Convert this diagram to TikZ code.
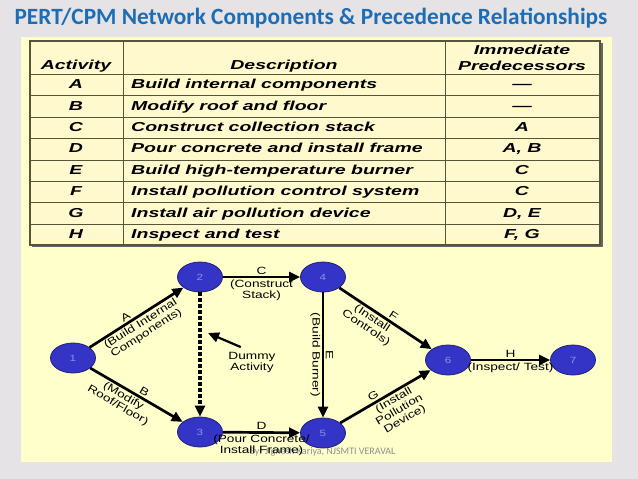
\documentclass[tikz,border=0pt]{standalone}
\usepackage{fontspec}
\usetikzlibrary{arrows.meta, shapes.geometric, positioning, calc}
\setmainfont{Liberation Sans}
\newfontfamily\titlefont{Carlito}
\newfontfamily\tabfont[FakeStretch=1.5]{Liberation Sans}
\newfontfamily\netfont[FakeStretch=1.3]{Liberation Sans}
\definecolor{SlideGray}{HTML}{E5E3E5}
\definecolor{PadYellow}{HTML}{FFFFCC}
\definecolor{TableCream}{HTML}{FFF9CD}
\definecolor{RuleOlive}{HTML}{55553A}
\definecolor{TitleBlue}{HTML}{1E6DB4}
\definecolor{EventBlue}{HTML}{3434C6}
\definecolor{EventRim}{HTML}{20207A}
\definecolor{DigitBlue}{HTML}{9090E8}
\definecolor{NoteGray}{HTML}{8E8E8E}

\tikzset{
  event/.style={ellipse, draw=EventRim, fill=EventBlue, line width=0.8pt,
    minimum width=45pt, minimum height=30pt, inner sep=0pt, text=DigitBlue,
    font=\netfont\fontsize{9}{9}\selectfont},
  act/.style={-{Triangle[length=11pt,width=10pt]}, line width=2.7pt, black},
  dummyact/.style={act, line width=3.4pt, dash pattern=on 3.5pt off 2.5pt},
  lbl/.style={font=\netfont\fontsize{10.5}{11}\selectfont, align=center, inner sep=1.5pt},
  cell/.style={font=\tabfont\bfseries\itshape\fontsize{13}{16}\selectfont,
    inner sep=0pt, text height=9.4pt, text depth=2pt},
}

\begin{document}
\begin{tikzpicture}[x=1pt, y=-1pt]
  % slide
  \useasboundingbox (0,0) rectangle (638,479);
  \fill[SlideGray] (0,0) rectangle (638,479);
  \fill[PadYellow] (21,37) rectangle (612,462);
  \node[font=\titlefont\bfseries\fontsize{23.3}{25}\selectfont, text=TitleBlue] (title) at (311,18)
    {PERT/CPM Network Components \& Precedence Relationships};

  % table
  \fill[black!60] (32,43) rectangle (603,247);
  \draw[RuleOlive, fill=TableCream, line width=1.4pt] (30,41) rectangle (600,245);
  \foreach \y in {74.3,95.7,...,225}{\draw[RuleOlive, line width=0.8pt] (30,\y) -- (600,\y);}
  \foreach \x in {123,445}{\draw[RuleOlive, line width=0.8pt] (\x,41) -- (\x,245);}
  \node[cell] (acthead) at (76,66) {Activity};
  \node[cell] (deschead) at (284,66) {Description};
  \node[cell, align=center, text height=, text depth=] (predhead) at (522,58) {Immediate\\Predecessors};
  \foreach \a/\d/\p [count=\i] in {A/Build internal components/—, B/Modify roof and floor/—,
      C/Construct collection stack/A, D/Pour concrete and install frame/{A, B},
      E/Build high-temperature burner/C, F/Install pollution control system/C,
      G/Install air pollution device/{D, E}, H/Inspect and test/{F, G}}{
    \node[cell] (act\i) at (76,{85+(\i-1)*21.4}) {\a};
    \node[cell, anchor=west] (desc\i) at (131,{85+(\i-1)*21.4}) {\d};
    \node[cell] (pred\i) at (522,{85+(\i-1)*21.4}) {\p};
  }

  % credit line
  \node[font=\titlefont\fontsize{10}{10}\selectfont, text=NoteGray, anchor=west] (credit) at (246,452)
    {By: Jignesh Kariya, NJSMTI VERAVAL};

  % events
  \node[event] (e1) at (73,358) {1};
  \node[event] (e2) at (200,277) {2};
  \node[event] (e3) at (200,432) {3};
  \node[event] (e4) at (323,277) {4};
  \node[event] (e5) at (323,433) {5};
  \node[event] (e6) at (448,360) {6};
  \node[event] (e7) at (573,360) {7};

  % activities
  \draw[act] (e1) -- node[lbl, sloped, above, pos=0.42] (la) {A}
    node[lbl, sloped, below, pos=0.5] (lad) {(Build Internal\\Components)} (e2);
  \draw[act] (e1) -- node[lbl, sloped, above, pos=0.55] (lb) {B}
    node[lbl, sloped, below, pos=0.4] (lbd) {(Modify\\Roof/Floor)} (e3);
  \draw[act] (e2) -- node[lbl, above] (lc) {C} node[lbl, below] (lcd) {(Construct\\Stack)} (e4);
  \draw[act] (e3) -- node[lbl, above] (ld) {D} node[lbl, below] (ldd) {(Pour Concrete/\\Install Frame)} (e5);
  \draw[act] (e4) -- node[lbl, sloped, above] (le) {E} node[lbl, sloped, below] (led) {(Build Burner)} (e5);
  \draw[act] (e4) -- node[lbl, sloped, above, pos=0.55] (lf) {F}
    node[lbl, sloped, below, pos=0.4] (lfd) {(Install\\Controls)} (e6);
  \draw[act] (e5) -- node[lbl, sloped, above, pos=0.4] (lg) {G}
    node[lbl, sloped, below, pos=0.55] (lgd) {(Install\\Pollution\\Device)} (e6);
  \draw[act] (e6) -- node[lbl, above] (lh) {H} node[lbl, below] (lhd) {(Inspect/ Test)} (e7);
  \draw[dummyact] (e2) -- (e3);

  % dummy note
  \node[lbl] (dum) at (252,362) {Dummy\\Activity};
  \coordinate (dumtip) at (208,333);
  \draw[act, line width=2.2pt] ([shift={(14,-3)}]dum.north west) -- (dumtip);
\end{tikzpicture}
\end{document}
